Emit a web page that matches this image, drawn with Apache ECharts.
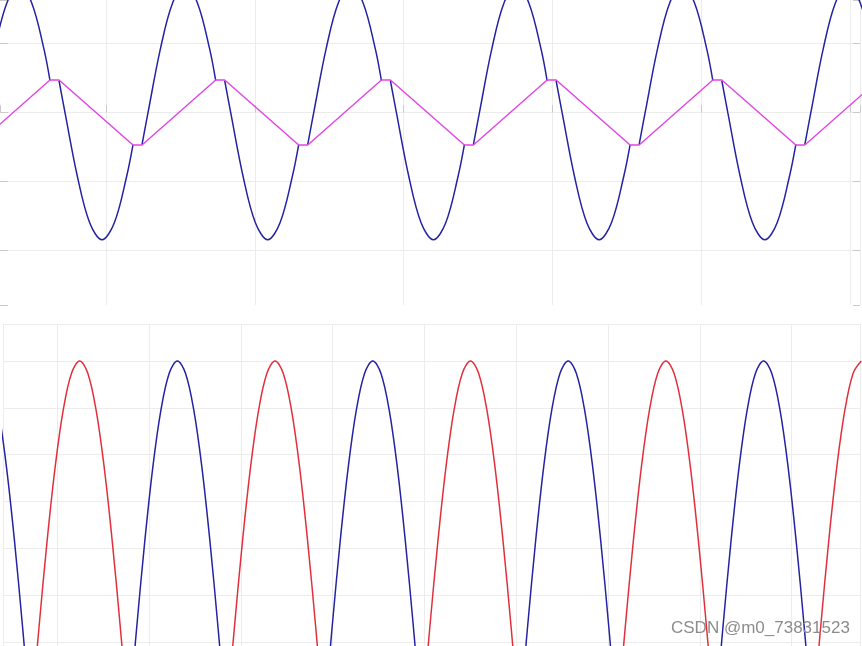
<!DOCTYPE html>
<html>
<head>
<meta charset="utf-8">
<script src="https://cdn.jsdelivr.net/npm/echarts@6.0.0/dist/echarts.min.js"></script>
<style>
html,body{margin:0;padding:0;background:#ffffff;}
#chart{width:862px;height:646px;}
</style>
</head>
<body>
<div id="chart"></div>
<script>
// ---- Top panel: modulating wave (blue) and carrier (magenta) ----
// [time, value]; null marks a break (the hold interval, covered by the carrier)
const topSine = [
  [0.1284,-0.234],[0.1687,-0.003],[0.2516,0.456],[0.3345,0.792],[0.4174,0.915],[0.5002,0.792],[0.5831,0.456],[0.6237,0.228],
  null,
  [0.6842,0.228],[0.7245,-0.003],[0.8074,-0.462],[0.8903,-0.798],[0.9732,-0.921],[1.0560,-0.798],[1.1390,-0.462],[1.1815,-0.234],
  null,
  [1.2420,-0.234],[1.2823,-0.003],[1.3652,0.456],[1.4481,0.792],[1.5310,0.915],[1.6138,0.792],[1.6967,0.456],[1.7373,0.228],
  null,
  [1.7978,0.228],[1.8381,-0.003],[1.9210,-0.462],[2.0039,-0.798],[2.0868,-0.921],[2.1696,-0.798],[2.2526,-0.462],[2.2951,-0.234],
  null,
  [2.3556,-0.234],[2.3959,-0.003],[2.4788,0.456],[2.5617,0.792],[2.6446,0.915],[2.7274,0.792],[2.8103,0.456],[2.8509,0.228],
  null,
  [2.9114,0.228],[2.9517,-0.003],[3.0346,-0.462],[3.1175,-0.798],[3.2004,-0.921],[3.2832,-0.798],[3.3662,-0.462],[3.4087,-0.234],
  null,
  [3.4692,-0.234],[3.5095,-0.003],[3.5924,0.456],[3.6753,0.792],[3.7582,0.915],[3.8410,0.792],[3.9239,0.456],[3.9645,0.228],
  null,
  [4.0250,0.228],[4.0653,-0.003],[4.1482,-0.462],[4.2311,-0.798],[4.3140,-0.921],[4.3968,-0.798],[4.4798,-0.462],[4.5223,-0.234],
  null,
  [4.5828,-0.234],[4.6231,-0.003],[4.7060,0.456],[4.7889,0.792],[4.8718,0.915],[4.9546,0.792],[5.0375,0.456],[5.0781,0.228],
  null,
  [5.1386,0.228],[5.1789,-0.003],[5.2618,-0.462],[5.3447,-0.798],[5.4276,-0.921],[5.5104,-0.798],[5.5934,-0.462],[5.6359,-0.234],
  null,
  [5.6964,-0.234],[5.7367,-0.003],[5.8196,0.456],[5.9025,0.792],[5.9854,0.915],[6.0682,0.792],[6.1511,0.456],[6.1917,0.228]
];

const topCarrier = [
  [0.1284,-0.236],[0.6237,0.233],[0.6842,0.233],[1.1815,-0.236],[1.2420,-0.236],
  [1.7373,0.233],[1.7978,0.233],[2.2951,-0.236],[2.3556,-0.236],
  [2.8509,0.233],[2.9114,0.233],[3.4087,-0.236],[3.4692,-0.236],
  [3.9645,0.233],[4.0250,0.233],[4.5223,-0.236],[4.5828,-0.236],
  [5.0781,0.233],[5.1386,0.233],[5.6359,-0.236],[5.6964,-0.236],
  [6.1917,0.233]
];

// ---- Bottom panel: two phase-opposed waves (red / blue) ----
const bottomTime = [
  0.1803,0.2690,0.3577,0.4464,0.5350,0.6237,0.7124,0.8011,0.8898,0.9785,
  1.0672,1.1559,1.2446,1.3333,1.4220,1.5107,1.5994,1.6881,1.7768,1.8655,
  1.9542,2.0428,2.1315,2.2202,2.3089,2.3976,2.4863,2.5750,2.6637,2.7524,
  2.8411,2.9298,3.0185,3.1072,3.1959,3.2846,3.3733,3.4620,3.5506,3.6393,
  3.7280,3.8167,3.9054,3.9941,4.0828,4.1715,4.2602,4.3489,4.4376,4.5263,
  4.6150,4.7037,4.7924,4.8811,4.9697,5.0584,5.1471,5.2358,5.3245,5.4132,
  5.5019,5.5906,5.6793,5.7680,5.8567,5.9454,6.0341,6.1228,6.2115,6.3002,
  6.3889,6.4775,6.5662,6.6549,6.7436,6.8323,6.9210,7.0097,7.0984,7.1871,
  7.2758,7.3645,7.4532,7.5419,7.6306,7.7193,7.8080,7.8967,7.9853,8.0740,
  8.1627,8.2514,8.3401,8.4288,8.5175,8.6062,8.6949,8.7836,8.8723,8.9610,
  9.0497,9.1384,9.2271,9.3158,9.4044,9.4931,9.5818,9.6705,9.7592
];

const bottomRed = [
  -2.075,-2.023,-1.869,-1.625,-1.306,-0.935,-0.538,-0.140,0.231,0.550,0.794,0.948,
  1.0,0.948,0.794,0.550,0.231,-0.140,-0.538,-0.935,-1.306,-1.625,-1.869,-2.023,
  -2.075,-2.023,-1.869,-1.625,-1.306,-0.935,-0.538,-0.140,0.231,0.550,0.794,0.948,
  1.0,0.948,0.794,0.550,0.231,-0.140,-0.538,-0.935,-1.306,-1.625,-1.869,-2.023,
  -2.075,-2.023,-1.869,-1.625,-1.306,-0.935,-0.538,-0.140,0.231,0.550,0.794,0.948,
  1.0,0.948,0.794,0.550,0.231,-0.140,-0.538,-0.935,-1.306,-1.625,-1.869,-2.023,
  -2.075,-2.023,-1.869,-1.625,-1.306,-0.935,-0.538,-0.140,0.231,0.550,0.794,0.948,
  1.0,0.948,0.794,0.550,0.231,-0.140,-0.538,-0.935,-1.306,-1.625,-1.869,-2.023,
  -2.075,-2.023,-1.869,-1.625,-1.306,-0.935,-0.538,-0.140,0.231,0.550,0.794,0.948,
  1.0
];

const bottomBlue = [
  1.0,0.948,0.794,0.550,0.231,-0.140,-0.538,-0.935,-1.306,-1.625,-1.869,-2.023,
  -2.075,-2.023,-1.869,-1.625,-1.306,-0.935,-0.538,-0.140,0.231,0.550,0.794,0.948,
  1.0,0.948,0.794,0.550,0.231,-0.140,-0.538,-0.935,-1.306,-1.625,-1.869,-2.023,
  -2.075,-2.023,-1.869,-1.625,-1.306,-0.935,-0.538,-0.140,0.231,0.550,0.794,0.948,
  1.0,0.948,0.794,0.550,0.231,-0.140,-0.538,-0.935,-1.306,-1.625,-1.869,-2.023,
  -2.075,-2.023,-1.869,-1.625,-1.306,-0.935,-0.538,-0.140,0.231,0.550,0.794,0.948,
  1.0,0.948,0.794,0.550,0.231,-0.140,-0.538,-0.935,-1.306,-1.625,-1.869,-2.023,
  -2.075,-2.023,-1.869,-1.625,-1.306,-0.935,-0.538,-0.140,0.231,0.550,0.794,0.948,
  1.0,0.948,0.794,0.550,0.231,-0.140,-0.538,-0.935,-1.306,-1.625,-1.869,-2.023,
  -2.075
];

const watermarkText = 'CSDN @m0_73831523';

// ---- build option ----
const GRID_COLOR = '#ececec';
const TICK_COLOR = '#c9c9c9';

const sineData = topSine.map(p => p === null ? [null, null] : p);
const redData = bottomTime.map((t, i) => [t, bottomRed[i]]);
const blueData = bottomTime.map((t, i) => [t, bottomBlue[i]]);

const chart = echarts.init(document.getElementById('chart'), null, {renderer: 'canvas'});

const hiddenLabel = {show: false};

chart.setOption({
  animation: false,
  backgroundColor: '#ffffff',
  grid: [
    {left: 0, right: 2, top: 0, bottom: 341, containLabel: false},
    {left: 3, right: 2, top: 324, bottom: 0, containLabel: false}
  ],
  xAxis: [
    {
      gridIndex: 0, type: 'value', min: 0.2876, max: 6.0672,
      minInterval: 1, maxInterval: 1,
      axisLine: {show: false},
      axisTick: {show: true, inside: true, length: 7, lineStyle: {color: TICK_COLOR}},
      axisLabel: hiddenLabel,
      splitLine: {show: true, showMinLine: false, showMaxLine: true, lineStyle: {color: GRID_COLOR, width: 1}}
    },
    {
      gridIndex: 1, type: 'value', min: 0.4096, max: 9.7451,
      minInterval: 1, maxInterval: 1,
      axisLine: {show: false},
      axisTick: {show: false},
      axisLabel: hiddenLabel,
      splitLine: {show: true, showMinLine: true, showMaxLine: true, lineStyle: {color: GRID_COLOR, width: 1}}
    }
  ],
  yAxis: [
    {
      gridIndex: 0, type: 'value', position: 'left', min: -1.3924, max: 0.8114,
      minInterval: 0.5, maxInterval: 0.5,
      axisLine: {show: false},
      axisTick: {show: true, inside: true, length: 8, lineStyle: {color: TICK_COLOR}},
      axisLabel: hiddenLabel,
      splitLine: {show: true, showMinLine: false, showMaxLine: false, lineStyle: {color: GRID_COLOR, width: 1}}
    },
    {
      gridIndex: 0, type: 'value', position: 'right', min: -1.3924, max: 0.8114,
      minInterval: 0.5, maxInterval: 0.5,
      axisLine: {show: false},
      axisTick: {show: true, inside: true, length: 7, lineStyle: {color: TICK_COLOR}},
      axisLabel: hiddenLabel,
      splitLine: {show: false}
    },
    {
      gridIndex: 1, type: 'value', position: 'left', min: -0.2171, max: 1.158,
      minInterval: 0.2, maxInterval: 0.2,
      axisLine: {show: false},
      axisTick: {show: false},
      axisLabel: hiddenLabel,
      splitLine: {show: true, showMinLine: false, showMaxLine: true, lineStyle: {color: GRID_COLOR, width: 1}}
    }
  ],
  series: [
    {
      type: 'line', xAxisIndex: 0, yAxisIndex: 0, data: sineData,
      smooth: 0.35, symbol: 'none', connectNulls: false, clip: true,
      lineStyle: {color: '#2323a3', width: 1.5}, z: 2
    },
    {
      type: 'line', xAxisIndex: 0, yAxisIndex: 0, data: topCarrier,
      smooth: false, symbol: 'none', clip: true,
      lineStyle: {color: '#e044e4', width: 1.4}, z: 3
    },
    {
      type: 'line', xAxisIndex: 1, yAxisIndex: 2, data: redData,
      smooth: 0.35, symbol: 'none', clip: true,
      lineStyle: {color: '#e0303c', width: 1.5}, z: 2
    },
    {
      type: 'line', xAxisIndex: 1, yAxisIndex: 2, data: blueData,
      smooth: 0.35, symbol: 'none', clip: true,
      lineStyle: {color: '#2323a3', width: 1.5}, z: 2
    }
  ],
  graphic: [
    {
      type: 'text', left: 671, top: 620, z: 100,
      style: {
        text: watermarkText,
        fill: '#8c8c8c',
        font: '17px "Liberation Sans", Arial, sans-serif'
      }
    }
  ]
});
</script>
</body>
</html>
